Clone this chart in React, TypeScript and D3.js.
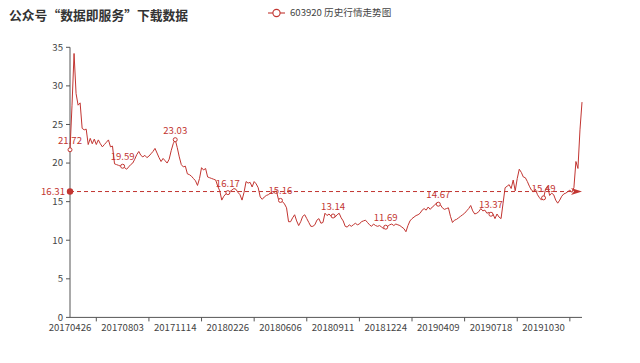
import React from 'react';
import * as d3 from 'd3';

// x-axis labels shown every LABEL_STEP points
const axisLabels = [
  '20170426', '20170803', '20171114', '20180226', '20180606',
  '20180911', '20181224', '20190409', '20190718', '20191030',
];

const yTicks = [0, 5, 10, 15, 20, 25, 30, 35];

// closing prices (one point per ~2px of plot width)
const prices = [
  21.72, 27.5, 34.2, 29.0, 27.5, 27.8, 24.5, 24.3, 24.4, 22.4,
  23.2, 22.5, 23.1, 22.4, 23.0, 22.5, 22.1, 22.4, 22.7, 23.0,
  22.1, 22.2, 19.9, 19.8, 19.7, 19.6, 19.59, 19.4, 19.2, 19.5,
  19.8, 20.0, 20.5, 21.1, 21.5, 21.0, 20.8, 21.0, 20.7, 20.9,
  21.2, 21.5, 21.9, 21.3, 20.7, 20.2, 20.6, 20.3, 20.0, 20.5,
  21.6, 22.5, 23.03, 22.0, 20.8, 19.8, 19.5, 19.6, 18.6, 18.5,
  18.3, 18.0, 17.7, 17.1, 18.0, 19.4, 19.1, 19.3, 18.2, 18.1,
  18.0, 17.9, 17.8, 17.0, 16.4, 15.2, 15.7, 16.0, 16.17, 16.3,
  16.5, 16.7, 16.6, 16.2, 15.9, 15.2, 16.2, 17.6, 17.4, 17.5,
  16.9, 17.6, 17.3, 16.8, 15.6, 15.3, 15.6, 15.8, 15.9, 16.1,
  16.3, 16.2, 16.4, 15.3, 15.16, 15.0, 14.7, 14.2, 12.4, 12.4,
  12.9, 13.3, 12.5, 11.9, 12.4, 13.1, 13.3, 12.8, 12.3, 11.8,
  11.8, 12.0, 12.6, 12.8, 12.2, 12.3, 13.5, 13.2, 13.4, 13.1,
  13.14, 13.0, 13.3, 13.5, 12.9, 12.5, 11.8, 11.7, 12.0, 11.8,
  12.0, 12.2, 12.0, 12.1, 12.4, 12.5, 12.6, 12.3, 12.0, 11.8,
  12.1, 11.9, 11.8, 11.9, 11.7, 11.5, 11.69, 11.8, 12.0, 12.1,
  11.9, 12.1, 12.0, 11.9, 11.7, 11.5, 11.1, 11.9, 12.5, 12.8,
  13.0, 13.2, 13.3, 13.5, 13.9, 14.1, 13.9, 14.3, 14.0, 14.3,
  14.5, 14.8, 14.67, 14.6, 14.2, 14.0, 14.1, 14.2, 13.1, 12.3,
  12.6, 12.7, 12.9, 13.1, 13.3, 13.5, 13.8, 14.1, 14.5, 13.8,
  13.4, 13.5, 13.7, 14.1, 13.8, 13.9, 13.5, 13.6, 13.37, 13.4,
  12.8, 13.4, 13.0, 12.8, 14.8, 16.8, 17.0, 17.2, 16.7, 17.8,
  16.4, 18.0, 19.2, 18.8, 18.2, 18.1, 17.6, 17.0, 16.5, 16.3,
  16.6, 15.9, 15.5, 15.2, 15.49, 16.6, 17.0, 15.8, 16.1, 15.9,
  15.2, 14.8, 15.2, 15.7, 16.0, 16.1, 16.3, 16.5, 16.2, 16.8,
  20.2, 19.3, 24.3, 27.9,
];

const averageValue = 16.31;
const LABEL_STEP = 26;

const title = '公众号“数据即服务”下载数据';
const seriesName = '603920 历史行情走势图';

const RED = '#c23531';
const AXIS = '#555';
const TEXT = '#444';
const FONT = '"Noto Sans CJK SC", "Noto Sans", sans-serif';
const FS = 9.6;

export default function App() {
  const width = 640;
  const height = 363;
  const margin = { top: 47.3, right: 58, bottom: 45.6, left: 70 };

  const idx = prices.map((_, i) => i);
  const x = d3.scalePoint<number>()
    .domain(idx)
    .range([margin.left, width - margin.right]);
  const y = d3.scaleLinear()
    .domain([0, 35])
    .range([height - margin.bottom, margin.top]);

  const line = d3.line<number>()
    .x((_, i) => x(i) || 0)
    .y(d => y(d));

  const labelIdx = axisLabels.map((_, k) => k * LABEL_STEP);
  const tickIdx = axisLabels.map((_, k) => k * LABEL_STEP + LABEL_STEP / 2);
  const step = x.step();

  const y0 = y(0);
  const x0 = margin.left;
  const x1 = width - margin.right;
  const avgY = y(averageValue);

  return (
    <div style={{ position: 'absolute', left: 0, top: 0 }}>
      <svg width={width} height={height} style={{ display: 'block', fontFamily: FONT }}>
        <rect width={width} height={height} fill="#fff" />

        {/* Title */}
        <text x={9} y={20} fontSize={12.8} fontWeight="bold" fill="#333">{title}</text>

        {/* Legend */}
        <g transform="translate(268,13)">
          <line x1={0} x2={17} y1={0} y2={0} stroke={RED} strokeWidth={1.1} />
          <circle cx={8.5} cy={0} r={3.6} fill="#fff" stroke={RED} strokeWidth={1.1} />
          <text x={22} y={3.4} fontSize={FS} fill={TEXT}>{seriesName}</text>
        </g>

        {/* Y axis */}
        <line x1={x0} x2={x0} y1={y(35)} y2={y0} stroke={AXIS} strokeWidth={1} />
        {yTicks.map(t => (
          <g key={t}>
            <line x1={x0 - 4} x2={x0} y1={y(t)} y2={y(t)} stroke={AXIS} />
            <text x={x0 - 7} y={y(t)} dy="0.35em" textAnchor="end" fontSize={FS} fill={TEXT}>{t}</text>
          </g>
        ))}

        {/* X axis */}
        <line x1={x0} x2={x1} y1={y0} y2={y0} stroke={AXIS} strokeWidth={1} />
        {tickIdx.map(i => {
          const tx = x0 + i * step;
          return <line key={i} x1={tx} x2={tx} y1={y0} y2={y0 + 4} stroke={AXIS} />;
        })}
        {labelIdx.map((i, k) => (
          <text key={i} x={x(i)} y={y0 + 13.5} textAnchor="middle" fontSize={FS} fill={TEXT}>
            {axisLabels[k]}
          </text>
        ))}

        {/* Price line */}
        <path d={line(prices) || ''} fill="none" stroke={RED} strokeWidth={1} strokeLinejoin="round" />

        {/* Average mark line */}
        <line x1={x0} x2={x1 - 8} y1={avgY} y2={avgY} stroke={RED} strokeWidth={1} strokeDasharray="4,3" />
        <circle cx={x0} cy={avgY} r={3.2} fill={RED} />
        <path d={`M${x1},${avgY} L${x1 - 11},${avgY - 3.5} L${x1 - 8},${avgY} L${x1 - 11},${avgY + 3.5} Z`} fill={RED} />
        <text x={x0 - 5} y={avgY} dy="0.35em" textAnchor="end" fontSize={FS} fill={RED}>
          {averageValue.toFixed(2)}
        </text>

        {/* Point symbols and value labels */}
        {labelIdx.map(i => (
          <g key={i}>
            <circle cx={x(i)} cy={y(prices[i])} r={2} fill="#fff" stroke={RED} strokeWidth={1} />
            <text x={x(i)} y={y(prices[i]) - 6} textAnchor="middle" fontSize={FS} fill={RED}>
              {prices[i].toFixed(2)}
            </text>
          </g>
        ))}
      </svg>
    </div>
  );
}
